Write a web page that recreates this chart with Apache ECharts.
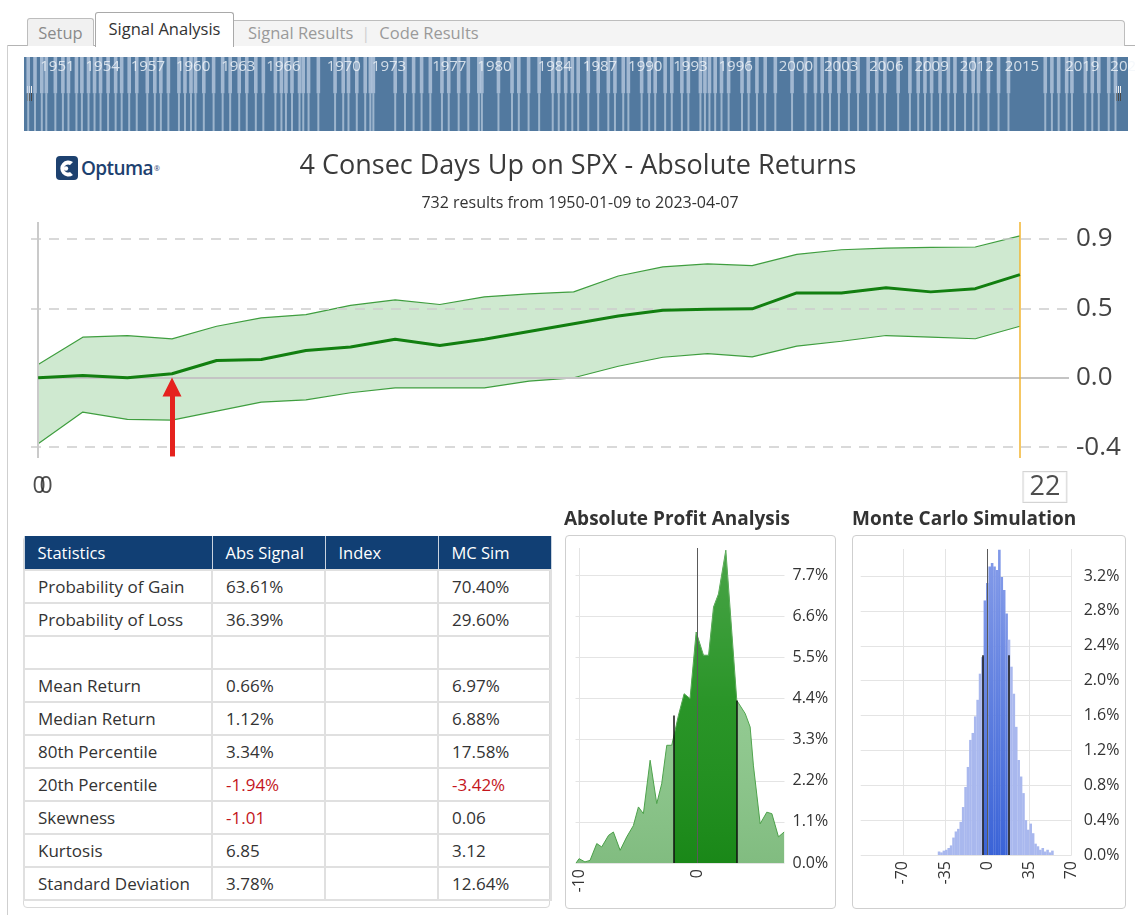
<!DOCTYPE html>
<html>
<head>
<meta charset="utf-8">
<script src="https://cdn.jsdelivr.net/npm/echarts/dist/echarts.min.js"></script>
<style>
  body { margin: 0; background: #fff; font-family: 'Open Sans', sans-serif; }
  #wrap { position: relative; width: 1135px; height: 915px; overflow: hidden; }
  .abs { position: absolute; box-sizing: border-box; }
  .hr { left: 7px; top: 45px; width: 1128px; height: 1px; background: #b4b4b4; }
  .vl { left: 7px; top: 45px; width: 1px; height: 870px; background: #cfcfcf; }
  .tabbar { left: 233px; top: 20px; width: 892px; height: 26px; background: #f4f4f4; border: 1px solid #bdbdbd; border-bottom: none; border-radius: 0 4px 0 0; color: #9a9a9a; font-size: 16.5px; line-height: 24px; padding-left: 14px; }
  .tabbar .sep { color: #d0d0d0; margin: 0 9px 0 8px; }
  .setup { left: 27px; top: 18px; width: 67px; height: 28px; background: #f1f1f1; border: 1px solid #bdbdbd; border-bottom: none; border-radius: 3px 3px 0 0; color: #8a8a8a; font-size: 16.5px; line-height: 27px; text-align: center; }
  .active { left: 95px; top: 12px; width: 139px; height: 35px; background: #fff; border: 1px solid #a9a9a9; border-bottom: none; border-radius: 3px 3px 0 0; color: #333; font-size: 16.5px; line-height: 32px; text-align: center; z-index: 2; }
  .logo { left: 56px; top: 153px; height: 30px; display: flex; align-items: center; color: #1d416f; font-size: 19px; font-weight: 600; letter-spacing: -0.6px; }
  .logo sup { font-size: 7px; font-weight: 400; margin-left: 1px; }
  .panel { border: 1px solid #cfcfcf; border-radius: 4px; }
  #tblbox { left: 23px; top: 536px; width: 527px; height: 372px; border: 1px solid #d9d9d9; border-radius: 4px; }
  #stats { position: absolute; left: 23px; top: 536px; width: 527px; border-collapse: collapse; font-size: 17px; color: #333; table-layout: fixed; }
  #stats th { background: #113f74; color: #fff; font-weight: 400; font-size: 16.5px; text-align: left; padding: 0 0 0 13px; height: 33px; border-left: 1px solid #c9d3df; border-right: 1px solid #c9d3df; }
  #stats td { height: 31px; padding: 0 0 0 13px; border: 2px solid #e0e0e0; white-space: nowrap; }
  #stats td.neg { color: #c4161c; }
  #chart { position: absolute; left: 0; top: 0; width: 1135px; height: 915px; z-index: 3; }
</style>
</head>
<body>
<div id="wrap">
  <div class="abs hr"></div>
  <div class="abs vl"></div>
  <div class="abs tabbar">Signal Results<span class="sep">|</span>Code Results</div>
  <div class="abs setup">Setup</div>
  <div class="abs active">Signal Analysis</div>
  <div class="abs logo">
    <svg width="22" height="24" viewBox="0 0 22 24" style="margin-right:3px">
      <rect x="0" y="0" width="22" height="24" rx="4" fill="#1d416f"/>
      <path d="M17 6 A8 8 0 1 0 17 19 L14 16 A4 4 0 1 1 14 9 Z" fill="#fff"/>
      <circle cx="10" cy="12.5" r="2.2" fill="#fff"/>
    </svg>
    Optuma<sup>®</sup>
  </div>
  <div class="abs panel" style="left:565px;top:535px;width:271px;height:374px;"></div>
  <div class="abs panel" style="left:852px;top:535px;width:274px;height:374px;"></div>
  <div class="abs" id="tblbox"></div>
  <table id="stats"><colgroup><col style="width:188px"><col style="width:113px"><col style="width:113px"><col style="width:113px"></colgroup><thead></thead><tbody></tbody></table>
  <div id="chart"></div>
</div>
<script>
// ---------------- data ----------------
// top timeline strip: signal occurrences (decimal years, read approximately)
const signalYears = [1950.3,1950.75,1951.2,1951.5,1952.1,1952.6,1952.97,1953.5,1953.86,1954.3,1954.7,1955.1,1955.6,1956.1,1956.5,1957.0,1957.5,1958.2,1958.7,1959.1,1959.6,1960.3,1960.7,1961.1,1961.4,1961.95,1962.6,1963.2,1963.7,1964.3,1964.8,1965.4,1965.9,1966.7,1967.1,1967.4,1967.8,1968.3,1968.55,1968.9,1969.55,1970.66,1971.2,1971.55,1972.1,1972.66,1973.0,1973.2,1974.65,1975.3,1975.87,1976.4,1976.98,1977.75,1978.2,1978.86,1979.5,1980.2,1980.4,1981.5,1982.4,1982.85,1983.5,1984.2,1985.1,1985.5,1985.96,1986.4,1986.79,1987.46,1988.12,1988.79,1989.23,1989.78,1990.12,1991.0,1991.5,1991.9,1992.56,1993.0,1993.67,1994.1,1994.9,1995.2,1995.5,1995.88,1996.3,1996.77,1997.66,1998.1,1998.65,1999.2,1999.87,2000.98,2001.87,2002.53,2002.98,2003.5,2004.09,2004.75,2005.36,2006.03,2006.6,2007.14,2008.02,2008.8,2009.35,2009.8,2010.24,2010.8,2011.35,2011.79,2012.46,2013.0,2013.35,2014.01,2014.68,2015.34,2017.78,2018.22,2018.67,2019.2,2019.55,2020.44,2020.9,2021.33,2021.99,2022.44];
const yearLabels = [1951,1954,1957,1960,1963,1966,1970,1973,1977,1980,1984,1987,1990,1993,1996,2000,2003,2006,2009,2012,2015,2019,2022];

// main chart: days after signal, mean return and band (%)
const days       = [0,1,2,3,4,5,6,7,8,9,10,11,12,13,14,15,16,17,18,19,20,21,22];
const meanReturn = [0.0,0.015,0.0,0.026,0.112,0.118,0.177,0.2,0.25,0.21,0.25,0.3,0.35,0.40,0.438,0.444,0.447,0.55,0.55,0.583,0.557,0.578,0.669];
const upperBand  = [0.086,0.263,0.274,0.252,0.334,0.389,0.41,0.47,0.505,0.475,0.525,0.544,0.557,0.66,0.719,0.738,0.727,0.8,0.83,0.84,0.846,0.848,0.92];
const lowerBand  = [-0.428,-0.222,-0.27,-0.274,-0.216,-0.158,-0.143,-0.097,-0.065,-0.065,-0.065,-0.022,0.0,0.075,0.133,0.157,0.136,0.205,0.237,0.274,0.263,0.253,0.334];
const yTickValues = [0.9, 0.45, 0, -0.45];
const yTickLabels = ['0.9', '0.5', '0.0', '-0.4'];
const xEndLabels  = [0, 22];
const markedDay   = 22;
const arrowDay    = 3;

// absolute profit distribution (return %, frequency %)
const profitX = [-10.25,-10.0,-9.5,-9.07,-8.5,-8.08,-7.5,-7.09,-6.52,-5.96,-5.4,-4.97,-4.55,-3.98,-3.42,-3.0,-2.57,-2.15,-1.58,-1.1,-0.6,-0.08,0.54,0.97,1.39,1.81,2.43,3.36,4.07,4.49,4.77,5.34,5.9,6.33,6.89,7.37];
const profitY = [0,0.116,0.03,0.07,0.52,0.43,0.74,0.83,0.34,0.7,1.0,1.5,1.32,2.75,1.59,2.12,3.15,3.15,3.95,4.53,4.4,6.18,5.56,5.56,6.85,7.2,8.37,4.35,4.0,3.64,2.6,1.05,1.36,1.32,0.7,0.83];
const profitPercentiles = [-1.94, 3.34];
const profitPctTops = [3.95, 4.35];

// monte carlo distribution (return %, frequency %)
const mcX = [-40,-38,-36,-34,-32,-30,-28,-26,-24,-22,-20,-18,-16,-14,-12,-10,-8,-6,-4,-2,0,2,4,6,8,10,12,14,16,18,20,22,24,26,28,30,32,34,36,38,40,42,44,46,48,50,52,54];
const mcY = [0.04,0.03,0.05,0.06,0.08,0.11,0.2,0.27,0.3,0.38,0.55,0.78,1.01,1.32,1.4,1.59,1.78,2.08,2.27,2.92,3.12,3.31,3.35,3.31,3.27,3.5,3.19,3.04,2.77,2.47,2.16,1.85,1.47,1.09,0.9,0.71,0.4,0.29,0.36,0.25,0.13,0.1,0.06,0.08,0.04,0.06,0.03,0.05];
const mcPercentiles = [-3.42, 17.58];
const mcPctTops = [2.29, 2.29];

// statistics table
const statNames = ['Probability of Gain','Probability of Loss','','Mean Return','Median Return','80th Percentile','20th Percentile','Skewness','Kurtosis','Standard Deviation'];
const absSignal = ['63.61%','36.39%','','0.66%','1.12%','3.34%','-1.94%','-1.01','6.85','3.78%'];
const indexCol  = ['','','','','','','','','',''];
const mcSim     = ['70.40%','29.60%','','6.97%','6.88%','17.58%','-3.42%','0.06','3.12','12.64%'];
const tableHeaders = ['Statistics','Abs Signal','Index','MC Sim'];

// ---------------- table ----------------
(function () {
  const thead = document.querySelector('#stats thead');
  thead.innerHTML = '<tr>' + tableHeaders.map(h => '<th>' + h + '</th>').join('') + '</tr>';
  const tbody = document.querySelector('#stats tbody');
  const cell = v => '<td' + (String(v).startsWith('-') ? ' class="neg"' : '') + '>' + v + '</td>';
  tbody.innerHTML = statNames.map((n, i) => '<tr><td>' + n + '</td>' + cell(absSignal[i]) + cell(indexCol[i]) + cell(mcSim[i]) + '</tr>').join('');
})();

// ---------------- chart ----------------
const FONT = 'Open Sans';
const chart = echarts.init(document.getElementById('chart'), null, { renderer: 'canvas' });
const yMin = -0.52, yMax = 1.01, xMin = -0.16, xMax = 23.1;

const gridLineData = yTickValues.map((v, i) => [
  { coord: [v === 0 ? 0 : xMin, v],
    lineStyle: v === 0 ? { color: '#c4c4c4', width: 2, type: 'solid' } : { color: '#cdcdcd', width: 1.5, type: [10, 8] },
    label: { show: true, position: 'end', formatter: yTickLabels[i], color: '#444', fontSize: 26, fontFamily: FONT, distance: 7 } },
  { coord: [xMax, v] }
]);

const option = {
  animation: false,
  textStyle: { fontFamily: FONT },
  title: [
    { text: '4 Consec Days Up on SPX - Absolute Returns', left: 573, top: 148, textAlign: 'center',
      textStyle: { fontSize: 27, fontWeight: 'normal', color: '#3a3a3a', fontFamily: FONT } },
    { text: '732 results from 1950-01-09 to 2023-04-07', left: 575, top: 190, textAlign: 'center',
      textStyle: { fontSize: 16, fontWeight: 'normal', color: '#333', fontFamily: FONT } },
    { text: 'Absolute Profit Analysis', left: 559, top: 505,
      textStyle: { fontSize: 19, fontWeight: 'bold', color: '#333', fontFamily: FONT } },
    { text: 'Monte Carlo Simulation', left: 847, top: 505,
      textStyle: { fontSize: 19, fontWeight: 'bold', color: '#333', fontFamily: FONT } }
  ],
  grid: [
    { left: 24, top: 57, width: 1104, height: 74, show: true, backgroundColor: '#52799f', borderWidth: 0 },
    { left: 31, top: 222, width: 1038, height: 236 },
    { left: 575.5, top: 548, width: 209, height: 315 },
    { left: 860.7, top: 549, width: 211, height: 306 }
  ],
  xAxis: [
    { gridIndex: 0, type: 'value', min: 1950.02, max: 2023.27, show: false },
    { gridIndex: 1, type: 'value', min: xMin, max: xMax, show: false },
    { gridIndex: 2, type: 'value', min: -10.3, max: 7.4, splitNumber: 2,
      axisLine: { show: false }, axisTick: { show: false },
      axisLabel: { rotate: 90, margin: 6, color: '#333', fontSize: 16, showMinLabel: false, showMaxLabel: false },
      splitLine: { show: true, showMinLine: false, showMaxLine: false, lineStyle: { color: '#e4e4e4' } } },
    { gridIndex: 3, type: 'value', min: -105, max: 70, interval: 35,
      axisLine: { show: false }, axisTick: { show: false },
      axisLabel: { rotate: 90, margin: 6, color: '#333', fontSize: 16, showMinLabel: false },
      splitLine: { show: true, showMinLine: false, lineStyle: { color: '#e4e4e4' } } }
  ],
  yAxis: [
    { gridIndex: 0, type: 'value', min: 0, max: 1, show: false },
    { gridIndex: 1, type: 'value', min: yMin, max: yMax, show: false },
    { gridIndex: 2, type: 'value', position: 'right', min: 0, max: 8.43, interval: 1.1,
      axisLine: { show: false }, axisTick: { show: false },
      axisLabel: { margin: 8, color: '#333', fontSize: 16, showMaxLabel: false, formatter: v => v.toFixed(1) + '%' },
      splitLine: { show: true, showMaxLine: false, lineStyle: { color: '#e4e4e4' } } },
    { gridIndex: 3, type: 'value', position: 'right', min: 0, max: 3.51, interval: 0.4,
      axisLine: { show: false }, axisTick: { show: false },
      axisLabel: { margin: 12, color: '#333', fontSize: 16, showMaxLabel: false, formatter: v => v.toFixed(1) + '%' },
      splitLine: { show: true, showMaxLine: false, lineStyle: { color: '#e4e4e4' } } }
  ],
  visualMap: [{
    type: 'piecewise', show: false, dimension: 0, seriesIndex: 7,
    pieces: [
      { lt: profitPercentiles[0], color: '#8cc78b' },
      { gte: profitPercentiles[0], lte: profitPercentiles[1], color: '#1c8e1a' },
      { gt: profitPercentiles[1], color: '#8cc78b' }
    ]
  }],
  series: [
    // 0: timeline stripes
    { type: 'custom', xAxisIndex: 0, yAxisIndex: 0, silent: true, clip: true,
      data: signalYears.map(y => [y, 0]),
      encode: { x: 0, y: 1 },
      renderItem: function (params, api) {
        const x = api.coord([api.value(0), 0])[0];
        const cs = params.coordSys;
        const split = cs.y + cs.height * 0.49;
        return { type: 'group', children: [
          { type: 'rect', shape: { x: x - 1.8, y: cs.y, width: 3.6, height: split - cs.y }, style: { fill: 'rgba(192,208,228,0.72)' } },
          { type: 'rect', shape: { x: x - 1, y: split, width: 2, height: cs.y + cs.height - split }, style: { fill: 'rgba(208,221,237,0.6)' } }
        ] };
      } },
    // 1: year labels
    { type: 'scatter', xAxisIndex: 0, yAxisIndex: 0, silent: true, symbolSize: 1,
      itemStyle: { color: 'rgba(0,0,0,0)' },
      data: yearLabels.map(y => [y, 0.865]),
      label: { show: true, position: 'right', distance: 1, color: '#f2f6fa', fontSize: 15, fontFamily: FONT, formatter: p => String(p.value[0]) } },
    // 2: band fill between lower and upper
    { type: 'custom', xAxisIndex: 1, yAxisIndex: 1, silent: true, z: 1,
      data: days.map((d, i) => [d, lowerBand[i], upperBand[i]]),
      encode: { x: 0, y: [1, 2] },
      renderItem: function (params, api) {
        if (params.dataIndex !== 0) return null;
        const pts = [];
        for (let i = 0; i < days.length; i++) pts.push(api.coord([days[i], upperBand[i]]));
        for (let i = days.length - 1; i >= 0; i--) pts.push(api.coord([days[i], lowerBand[i]]));
        return { type: 'polygon', shape: { points: pts }, style: { fill: 'rgba(76,175,80,0.27)' } };
      } },
    // 3: lower band line (+ grid / axis mark lines)
    { type: 'line', xAxisIndex: 1, yAxisIndex: 1, symbol: 'none', z: 2,
      data: days.map((d, i) => [d, lowerBand[i]]),
      lineStyle: { color: '#3f9e3f', width: 1.2 },
      markLine: { silent: true, symbol: ['none', 'none'], animation: false,
        data: gridLineData.concat([
          [ { coord: [0, yMin], lineStyle: { color: '#cacaca', width: 2, type: 'solid' }, label: { show: false } }, { coord: [0, yMax] } ],
          [ { coord: [markedDay, yMin], lineStyle: { color: '#f2b431', width: 1.5, type: 'solid' }, label: { show: false } }, { coord: [markedDay, yMax] } ]
        ]) } },
    // 4: upper band line
    { type: 'line', xAxisIndex: 1, yAxisIndex: 1, symbol: 'none', z: 3,
      data: days.map((d, i) => [d, upperBand[i]]),
      lineStyle: { color: '#3f9e3f', width: 1.2 } },
    // 5: mean return line
    { type: 'line', xAxisIndex: 1, yAxisIndex: 1, symbol: 'none', z: 5,
      data: days.map((d, i) => [d, meanReturn[i]]),
      lineStyle: { color: '#127f10', width: 3 },
      markLine: { silent: true, animation: false, symbol: ['none', 'triangle'], symbolSize: 19,
        data: [ [ { coord: [arrowDay, yMin + 0.01], lineStyle: { color: '#e5221e', width: 5, type: 'solid' }, label: { show: false } },
                  { coord: [arrowDay, -0.06] } ] ] } },
    // 6: x end labels
    { type: 'scatter', xAxisIndex: 1, yAxisIndex: 1, silent: true, symbolSize: 1, z: 6,
      itemStyle: { color: 'rgba(0,0,0,0)' },
      data: [
        { value: [xEndLabels[0], yMin], label: { offset: [1, 28] } },
        { value: [xEndLabels[0], yMin], label: { offset: [8, 28] } },
        { value: [xEndLabels[1], yMin], label: { offset: [25, 29], backgroundColor: '#fff', borderColor: '#c9c9c9', borderWidth: 1, padding: [2, 6, 1, 6], fontSize: 27 } }
      ],
      label: { show: true, position: 'inside', color: '#222', fontSize: 23, fontFamily: FONT, formatter: p => String(p.value[0]) } },
    // 7: absolute profit distribution
    { type: 'line', xAxisIndex: 2, yAxisIndex: 2, symbol: 'none', z: 3,
      data: profitX.map((x, i) => [x, profitY[i]]),
      lineStyle: { color: '#4da34b', width: 1 },
      areaStyle: { opacity: 1 },
      markLine: { silent: true, animation: false, symbol: ['none', 'none'], label: { show: false }, z: 5,
        data: [
          [ { coord: [0, 0], lineStyle: { color: '#5a5a5a', width: 1, type: 'solid' } }, { coord: [0, 8.43] } ],
          [ { coord: [profitPercentiles[0], 0], lineStyle: { color: '#111', width: 1.5, type: 'solid' } }, { coord: [profitPercentiles[0], profitPctTops[0]] } ],
          [ { coord: [profitPercentiles[1], 0], lineStyle: { color: '#111', width: 1.5, type: 'solid' } }, { coord: [profitPercentiles[1], profitPctTops[1]] } ]
        ] } },
    // 8: subtle vertical shading over the profit area (lighter top, deeper bottom)
    { type: 'line', xAxisIndex: 2, yAxisIndex: 2, symbol: 'none', z: 4, silent: true,
      data: profitX.map((x, i) => [x, profitY[i]]),
      lineStyle: { width: 0 },
      areaStyle: { opacity: 1, color: new echarts.graphic.LinearGradient(0, 0, 0, 1, [
        { offset: 0, color: 'rgba(255,255,255,0.2)' }, { offset: 0.5, color: 'rgba(255,255,255,0.06)' }, { offset: 1, color: 'rgba(0,60,0,0.08)' }]) } },
    // 9: monte carlo histogram
    { type: 'bar', xAxisIndex: 3, yAxisIndex: 3, barWidth: 2.6, z: 3,
      data: mcX.map((x, i) => [x, mcY[i]]),
      itemStyle: { color: function (p) {
        const x = p.value[0];
        if (x >= mcPercentiles[0] && x <= mcPercentiles[1]) {
          return new echarts.graphic.LinearGradient(0, 0, 0, 1, [{ offset: 0, color: '#8199e8' }, { offset: 1, color: '#3a63d7' }]);
        }
        return '#a9b8ee';
      } },
      markLine: { silent: true, animation: false, symbol: ['none', 'none'], label: { show: false },
        data: [
          [ { coord: [0, 0], lineStyle: { color: '#5a5a5a', width: 1, type: 'solid' } }, { coord: [0, 3.51] } ],
          [ { coord: [mcPercentiles[0], 0], lineStyle: { color: '#111', width: 1.5, type: 'solid' } }, { coord: [mcPercentiles[0], mcPctTops[0]] } ],
          [ { coord: [mcPercentiles[1], 0], lineStyle: { color: '#111', width: 1.5, type: 'solid' } }, { coord: [mcPercentiles[1], mcPctTops[1]] } ]
        ] } }
  ],
  graphic: [
    { type: 'group', left: 27, top: 86, silent: true, children: [0, 2, 4].map(dx => ({ type: 'rect', shape: { x: dx, y: 0, width: 1, height: 7 }, style: { fill: '#eeeeee' } }))
        .concat([0, 2, 4].map(dx => ({ type: 'rect', shape: { x: dx, y: 7, width: 1, height: 8 }, style: { fill: '#4a4a4a' } }))) },
    { type: 'group', left: 1116, top: 86, silent: true, children: [0, 2, 4].map(dx => ({ type: 'rect', shape: { x: dx, y: 0, width: 1, height: 7 }, style: { fill: '#eeeeee' } }))
        .concat([0, 2, 4].map(dx => ({ type: 'rect', shape: { x: dx, y: 7, width: 1, height: 8 }, style: { fill: '#4a4a4a' } }))) }
  ]
};
chart.setOption(option);
</script>
</body>
</html>
